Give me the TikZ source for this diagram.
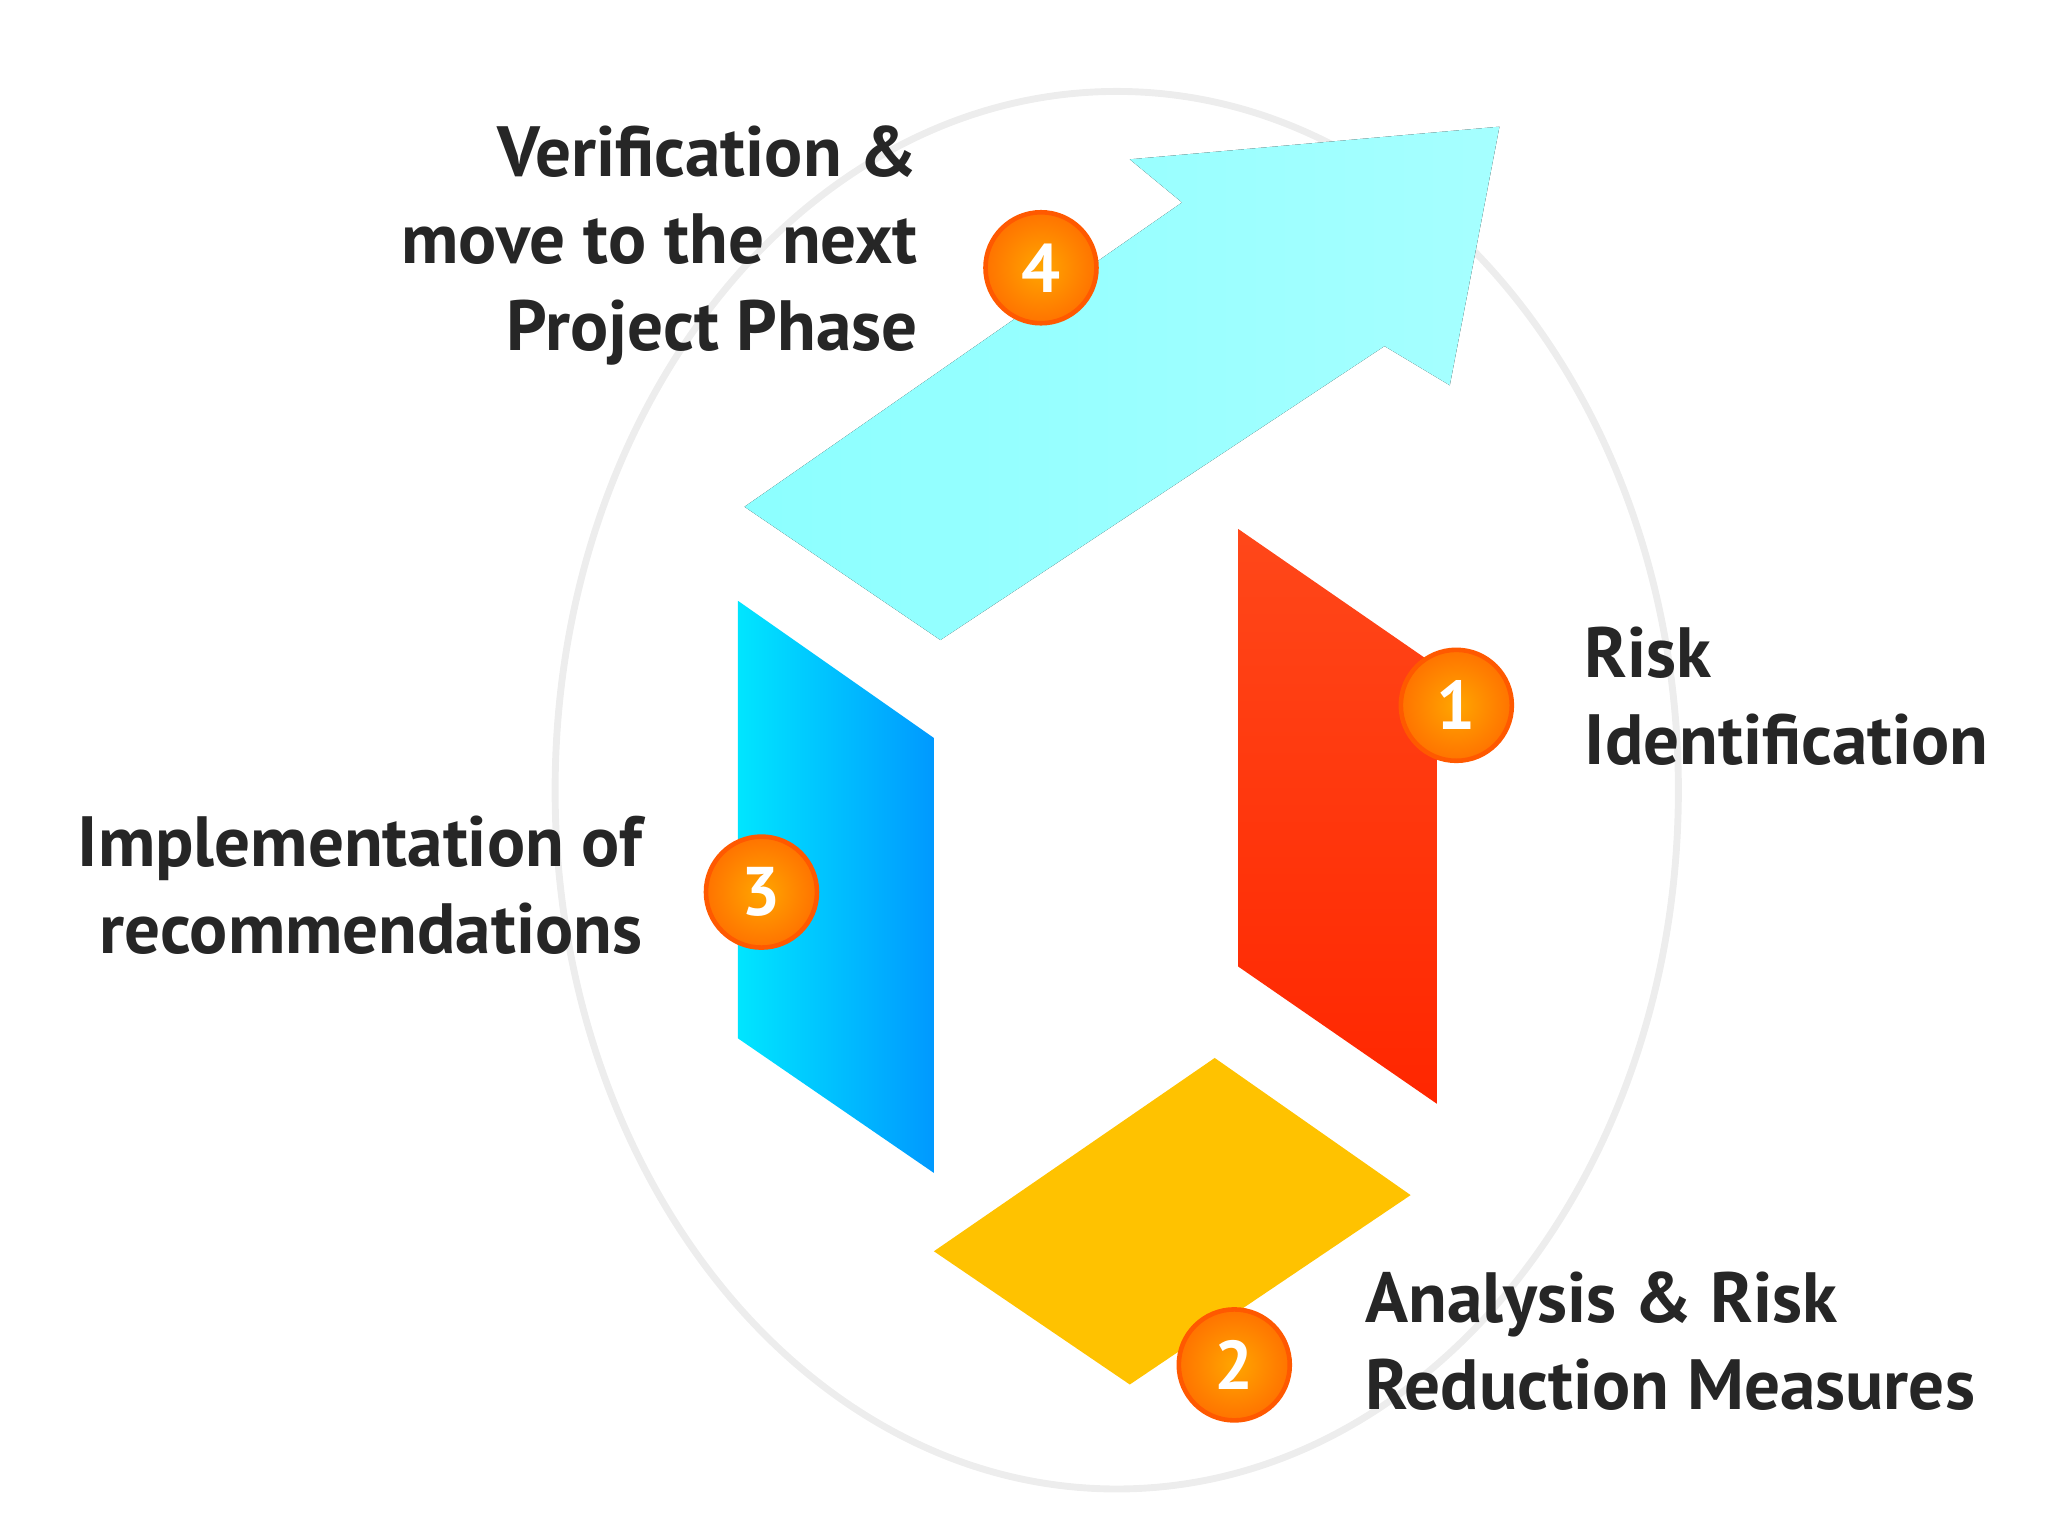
\documentclass[tikz,border=0pt]{standalone}
\usepackage{fontspec}
\setmainfont{PT Sans}
\begin{document}
\begin{tikzpicture}[x=0.02cm,y=-0.02cm,
  badge/.style={circle,minimum size=1.7cm,inner sep=0pt,font=\bfseries\fontsize{30}{30}\selectfont,text=white,
    draw=orange!70!red,line width=2pt,shade,inner color=orange!70!yellow,outer color=orange!90!red},
  lbl/.style={font=\bfseries\fontsize{31}{38}\selectfont,text=black!85,inner sep=0pt}]
\useasboundingbox (0,0) rectangle (1568,1176);
\draw[black!7,line width=3pt] (855,605) ellipse [x radius=430,y radius=535];
\fill[left color=cyan!45!white,right color=cyan!35!white] (570,388) -- (905,155) -- (865,122) -- (1148,97) -- (1110,295) -- (1060,265) -- (720,490) -- cycle;
\shade[top color=red!60!orange!90,bottom color=red!70!orange] (948,405) -- (1100,510) -- (1100,845) -- (948,740) -- cycle;
\shade[left color=cyan!90!blue,right color=cyan!60!blue] (565,460) -- (715,565) -- (715,898) -- (565,795) -- cycle;
\fill[orange!40!yellow!95!red] (715,958) -- (930,810) -- (1080,915) -- (865,1060) -- cycle;
\node[badge] (b4) at (797,205) {4};
\node[badge] (b1) at (1115,540) {1};
\node[badge] (b3) at (583,683) {3};
\node[badge] (b2) at (945,1045) {2};
\node[lbl,anchor=east,align=right] (t4) at (703,188) {Verification \&\\move to the next\\Project Phase};
\node[lbl,anchor=west,align=left] (t1) at (1213,533) {Risk\\Identification};
\node[lbl,anchor=east,align=right] (t3) at (492,678) {Implementation of\\recommendations};
\node[lbl,anchor=west,align=left] (t2) at (1045,1027) {Analysis \& Risk\\Reduction Measures};
\end{tikzpicture}
\end{document}
